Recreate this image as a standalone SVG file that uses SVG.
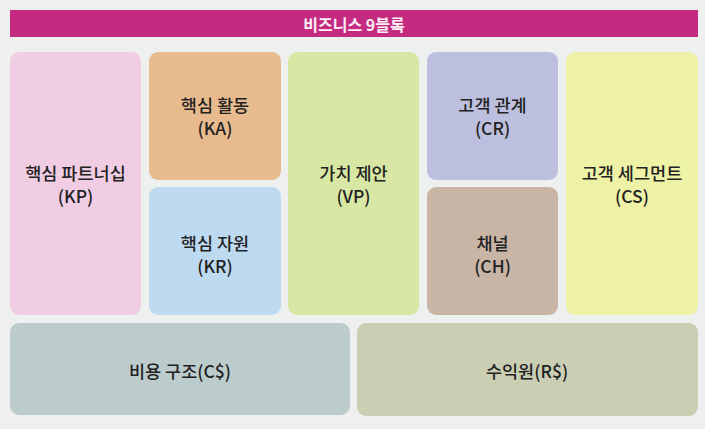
<svg xmlns="http://www.w3.org/2000/svg" width="705" height="429" viewBox="0 0 705 429">
<style>
.box{stroke:none}
.t{font-family:"Noto Sans CJK KR","Noto Sans",sans-serif;font-size:17.5px;font-weight:500;fill:#222222;text-anchor:middle;dominant-baseline:central}
.title{font-family:"Noto Sans CJK KR","Noto Sans",sans-serif;font-size:16px;font-weight:bold;fill:#fbeef6;text-anchor:middle;dominant-baseline:central}
</style>
<rect x="0" y="0" width="705" height="429" fill="#eef0f0"/>
<g id="title">
<rect x="10" y="10" width="688" height="27" fill="#c42a80"/>
<text class="title" x="354" y="23.5">비즈니스 9블록</text>
</g>
<g id="KP">
<rect class="box" x="10" y="52" width="131" height="263" rx="9" fill="#f0cde2"/>
<text class="t" x="75.5" y="172">핵심 파트너십</text>
<text class="t" x="75.5" y="195">(KP)</text>
</g>
<g id="KA">
<rect class="box" x="149" y="52" width="132" height="128" rx="9" fill="#e8bb8e"/>
<text class="t" x="215" y="104.5">핵심 활동</text>
<text class="t" x="215" y="127.5">(KA)</text>
</g>
<g id="KR">
<rect class="box" x="149" y="187" width="132" height="128" rx="9" fill="#bedaf0"/>
<text class="t" x="215" y="242">핵심 자원</text>
<text class="t" x="215" y="265">(KR)</text>
</g>
<g id="VP">
<rect class="box" x="288" y="52" width="131" height="263" rx="9" fill="#d8e8a4"/>
<text class="t" x="353.5" y="172">가치 제안</text>
<text class="t" x="353.5" y="195">(VP)</text>
</g>
<g id="CR">
<rect class="box" x="427" y="52" width="131" height="128" rx="9" fill="#bcc0de"/>
<text class="t" x="492.5" y="104.5">고객 관계</text>
<text class="t" x="492.5" y="127.5">(CR)</text>
</g>
<g id="CH">
<rect class="box" x="427" y="187" width="131" height="128" rx="9" fill="#c9b5a6"/>
<text class="t" x="492.5" y="242">채널</text>
<text class="t" x="492.5" y="265">(CH)</text>
</g>
<g id="CS">
<rect class="box" x="566" y="52" width="132" height="263" rx="9" fill="#eef2a6"/>
<text class="t" x="632" y="172">고객 세그먼트</text>
<text class="t" x="632" y="195">(CS)</text>
</g>
<g id="Cost">
<rect class="box" x="10" y="323" width="340" height="92" rx="9" fill="#bccccc"/>
<text class="t" x="180" y="370">비용 구조(C$)</text>
</g>
<g id="Revenue">
<rect class="box" x="357" y="323" width="341" height="93" rx="9" fill="#cacfb4"/>
<text class="t" x="527" y="370">수익원(R$)</text>
</g>
<g id="connectors"></g>
</svg>
